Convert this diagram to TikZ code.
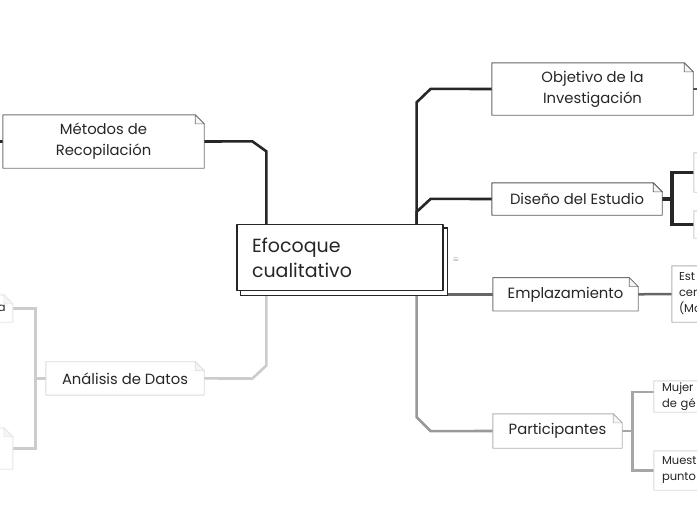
\documentclass[tikz,border=0pt]{standalone}
\usepackage{fontspec}
\setmainfont{Poppins}
\usetikzlibrary{positioning,backgrounds}

\begin{document}
\begin{tikzpicture}[x=1pt,y=-1pt,line join=round]
    \tikzstyle{note}=[fill=white,inner sep=0pt,align=center,text=black!85,font=\fontsize{14.8}{21}\selectfont]
    \tikzstyle{leaf}=[note,align=left,inner xsep=7pt,font=\fontsize{11.5}{16}\selectfont]
    \tikzstyle{branch}=[line width=2.6pt]

    \useasboundingbox (0,0) rectangle (697,520);

    % centre
    \node[draw=black!85,line width=1.3pt,fill=white,minimum width=206,minimum height=66,
          text width=176,align=left,inner xsep=15pt,text=black!85,
          font=\fontsize{19}{25}\selectfont] (centre) at (340,257.5) {Efocoque\\cualitativo};
    \node[text=black!55,font=\scriptsize] (menu) at (456,260) {$\equiv$};

    % main topics
    \node[note,minimum width=201,minimum height=53] (metodos)  at (103.5,141.5) {Métodos de\\Recopilación};
    \node[note,minimum width=201,minimum height=52] (objetivo) at (592.5,89)    {Objetivo de la\\Investigación};
    \node[note,minimum width=170,minimum height=32] (diseno)   at (577,199)     {Diseño del Estudio};
    \node[note,minimum width=145,minimum height=33] (emplaz)   at (565.5,294.3) {Emplazamiento};
    \node[note,minimum width=129,minimum height=34] (partic)   at (557.5,431)   {Participantes};
    \node[note,minimum width=158,minimum height=33] (analisis) at (125,378.4)   {Análisis de Datos};

    % subtopics
    \node[leaf,minimum width=120,minimum height=39] (d1) at (754,172.5) {};
    \node[leaf,minimum width=120,minimum height=27] (d2) at (754,224.5) {};
    \node[leaf,minimum width=100,minimum height=56,text width=86] (e1) at (722,294) {Est\\cer\\(Mo};
    \node[leaf,minimum width=100,minimum height=31,text width=84,inner xsep=8pt] (p1) at (704,396.5) {Mujer\\de gé};
    \node[leaf,minimum width=100,minimum height=39,text width=84,inner xsep=8pt] (p2) at (704,470.5) {Muest\\punto};
    \node[leaf,minimum width=100,minimum height=27,text width=86,inner xsep=7pt,align=right] (a1) at (-37.3,308.5) {a};
    \node[leaf,minimum width=100,minimum height=41] (a2) at (-37.3,448.5) {};

    \coordinate (metodosout)  at (-20,141.5);
    \coordinate (objetivoout) at (720,89);

    % note outlines with folded corner
    \foreach \n/\c in {metodos/black!55,objetivo/black!60,diseno/black!65,emplaz/black!55,
                       partic/black!30,analisis/black!14,d1/black!20,d2/black!20,e1/black!30,
                       p1/black!15,p2/black!15,a1/black!10,a2/black!10} {
        \draw[\c,line width=0.9pt] (\n.south west) -- (\n.north west) -- ([xshift=-9pt]\n.north east)
            -- ([yshift=-9pt]\n.north east) -- (\n.south east) -- cycle;
        \draw[\c,line width=0.6pt,fill=black!4] ([xshift=-9pt]\n.north east) -- ([shift={(-9pt,-9pt)}]\n.north east)
            -- ([yshift=-9pt]\n.north east) -- cycle;
    }

    \begin{scope}[on background layer]
        \fill[white] (0,0) rectangle (697,520);

        \draw[branch,black!85] ([xshift=30pt]centre.north west) -- ++(0,-72.5) -- ++(-14,-10) -- (metodos.east);
        \draw[branch,black!85] ([xshift=-27pt]centre.north east) -- ++(0,-121.5) -- ++(14,-13.5) -- (objetivo.west);
        \draw[branch,black!85] ([xshift=-27pt]centre.north east) -- ++(0,-12) -- ++(14,-13) -- (diseno.west);
        \draw[branch,black!60] (emplaz.west) -- (emplaz.west -| centre.east);
        \draw[branch,black!40] ([xshift=-27pt]centre.south east) -- ++(0,126) -- ++(14,14) -- (partic.west);
        \draw[branch,black!20] ([xshift=30pt]centre.south west) -- ++(0,74.4) -- ++(-14,13) -- (analisis.east);
        \draw[branch,black!85] (metodos.west) -- (metodosout);
        \draw[branch,black!70] (objetivo.east) -- (objetivoout);

        \foreach \t in {d1,d2}
            \draw[black!85,line width=3.5pt] (diseno.east) -- ++(10,0) |- (\t.west);
        \draw[black!60,line width=2.5pt] (emplaz.east) -- (e1.west);
        \draw[black!35,line width=2.8pt] (partic.east) -- ++(10,0) |- ([yshift=4.5pt]p1.west);
        \draw[black!35,line width=2.8pt] (partic.east) -- ++(10,0) |- (p2.west);
        \foreach \t in {a1,a2}
            \draw[black!20,line width=2.8pt] (analisis.west) -- ++(-10,0) |- (\t.east);

        % shadow of the centre
        \draw[black!85,line width=1.3pt,fill=white] ([shift={(4pt,-4pt)}]centre.south west)
            rectangle ([shift={(4pt,-4pt)}]centre.north east);
    \end{scope}
\end{tikzpicture}
\end{document}
